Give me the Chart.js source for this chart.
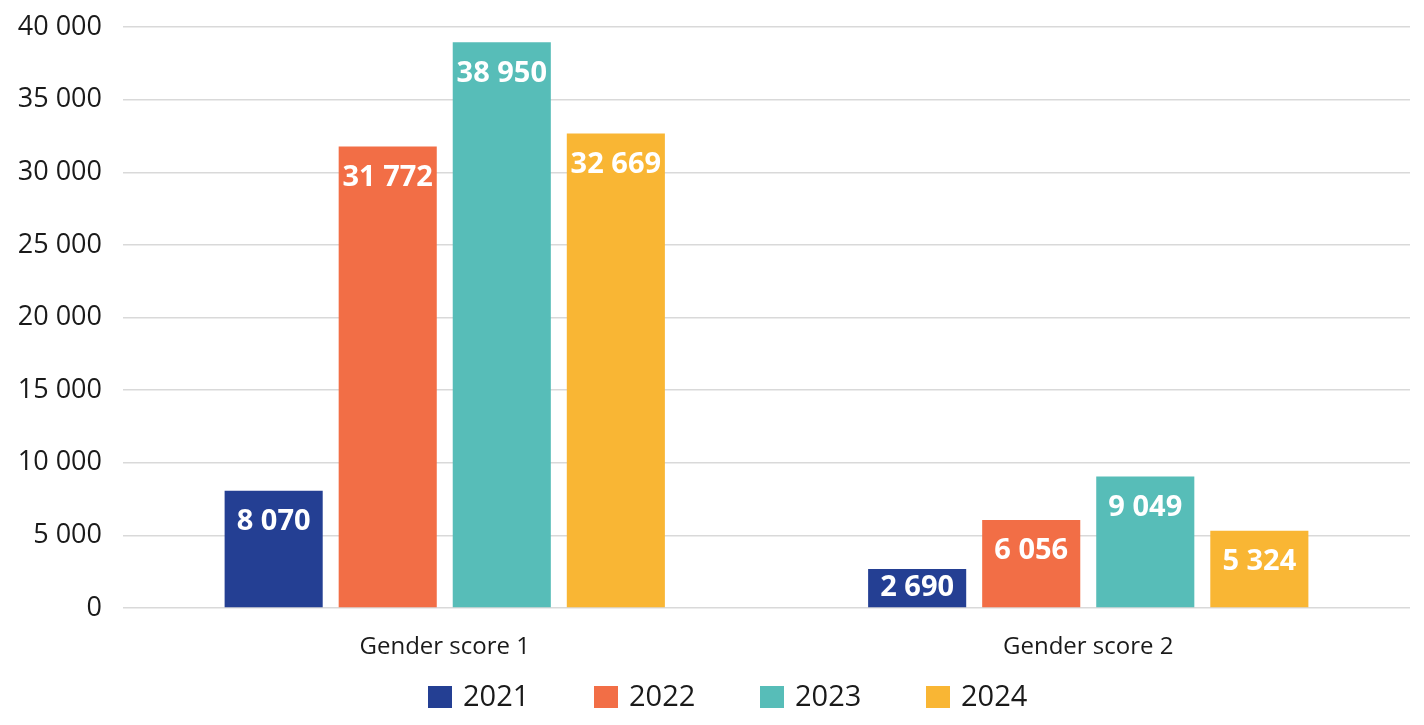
<!DOCTYPE html>
<html>
<head>
<meta charset="utf-8">
<script src="https://cdn.jsdelivr.net/npm/chart.js@4.4.1/dist/chart.umd.min.js"></script>
<style>
  html, body { margin: 0; padding: 0; background: #ffffff; }
  #wrap { width: 1424px; height: 725px; }
</style>
</head>
<body>
<div id="wrap"><canvas id="c" width="1424" height="725"></canvas></div>
<script>
const categories = ["Gender score 1", "Gender score 2"];
const seriesNames = ["2021", "2022", "2023", "2024"];
const values2021 = [8070, 2690];
const values2022 = [31772, 6056];
const values2023 = [38950, 9049];
const values2024 = [32669, 5324];
const yTicks = [0, 5000, 10000, 15000, 20000, 25000, 30000, 35000, 40000];

const colors = ["#243f93", "#f26e46", "#57bdb8", "#f9b634"];
const FONT = "'Open Sans', 'Noto Sans', sans-serif";
const fmt = v => String(v).replace(/\B(?=(\d{3})+(?!\d))/g, ' ');

const seriesValues = [values2021, values2022, values2023, values2024];

const barLabels = {
  id: 'barLabels',
  afterDatasetsDraw(chart) {
    const ctx = chart.ctx;
    ctx.save();
    ctx.fillStyle = '#ffffff';
    ctx.font = "bold 29px " + FONT;
    ctx.textAlign = 'center';
    ctx.textBaseline = 'middle';
    chart.data.datasets.forEach((ds, i) => {
      const meta = chart.getDatasetMeta(i);
      meta.data.forEach((bar, j) => {
        const h = bar.base - bar.y;
        const y = bar.y + Math.min(31, h / 2);
        ctx.fillText(fmt(ds.data[j]), bar.x, y);
      });
    });
    ctx.restore();
  }
};

const customLegend = {
  id: 'customLegend',
  afterDraw(chart) {
    const ctx = chart.ctx;
    ctx.save();
    ctx.font = "29px " + FONT;
    ctx.textBaseline = 'middle';
    ctx.textAlign = 'left';
    const startX = 428, step = 166, cy = 697;
    chart.data.datasets.forEach((ds, i) => {
      const x = startX + i * step;
      ctx.fillStyle = ds.backgroundColor;
      ctx.fillRect(x, cy - 11, 24, 22);
      ctx.fillStyle = '#1a1a1a';
      ctx.fillText(ds.label, x + 35, cy + 1);
    });
    ctx.restore();
  }
};

new Chart(document.getElementById('c'), {
  type: 'bar',
  data: {
    labels: categories,
    datasets: seriesNames.map((name, i) => ({
      label: name,
      data: seriesValues[i],
      backgroundColor: colors[i],
      borderWidth: 0,
      categoryPercentage: 0.709,
      barPercentage: 0.86
    }))
  },
  options: {
    responsive: false,
    animation: false,
    devicePixelRatio: 1,
    layout: { padding: { top: 27, right: 14, left: 0, bottom: 0 } },
    plugins: {
      legend: { display: false },
      tooltip: { enabled: false }
    },
    scales: {
      x: {
        grid: { display: false, drawTicks: false },
        border: { display: false },
        ticks: { color: '#1a1a1a', font: { family: FONT, size: 24 }, padding: 25 },
        afterFit(scale) { scale.height = 117; scale.paddingLeft = 0; scale.paddingRight = 0; }
      },
      y: {
        min: 0,
        max: 40000,
        afterBuildTicks(scale) { scale.ticks = yTicks.map(v => ({ value: v })); },
        grid: { color: '#d9d9d9', lineWidth: 1.5, drawTicks: false },
        border: { display: false },
        ticks: {
          color: '#1a1a1a',
          font: { family: FONT, size: 27 },
          padding: 21,
          callback: v => fmt(v)
        },
        afterFit(scale) { scale.width = 123; scale.paddingTop = 0; scale.paddingBottom = 0; }
      }
    }
  },
  plugins: [barLabels, customLegend]
});
</script>
</body>
</html>
